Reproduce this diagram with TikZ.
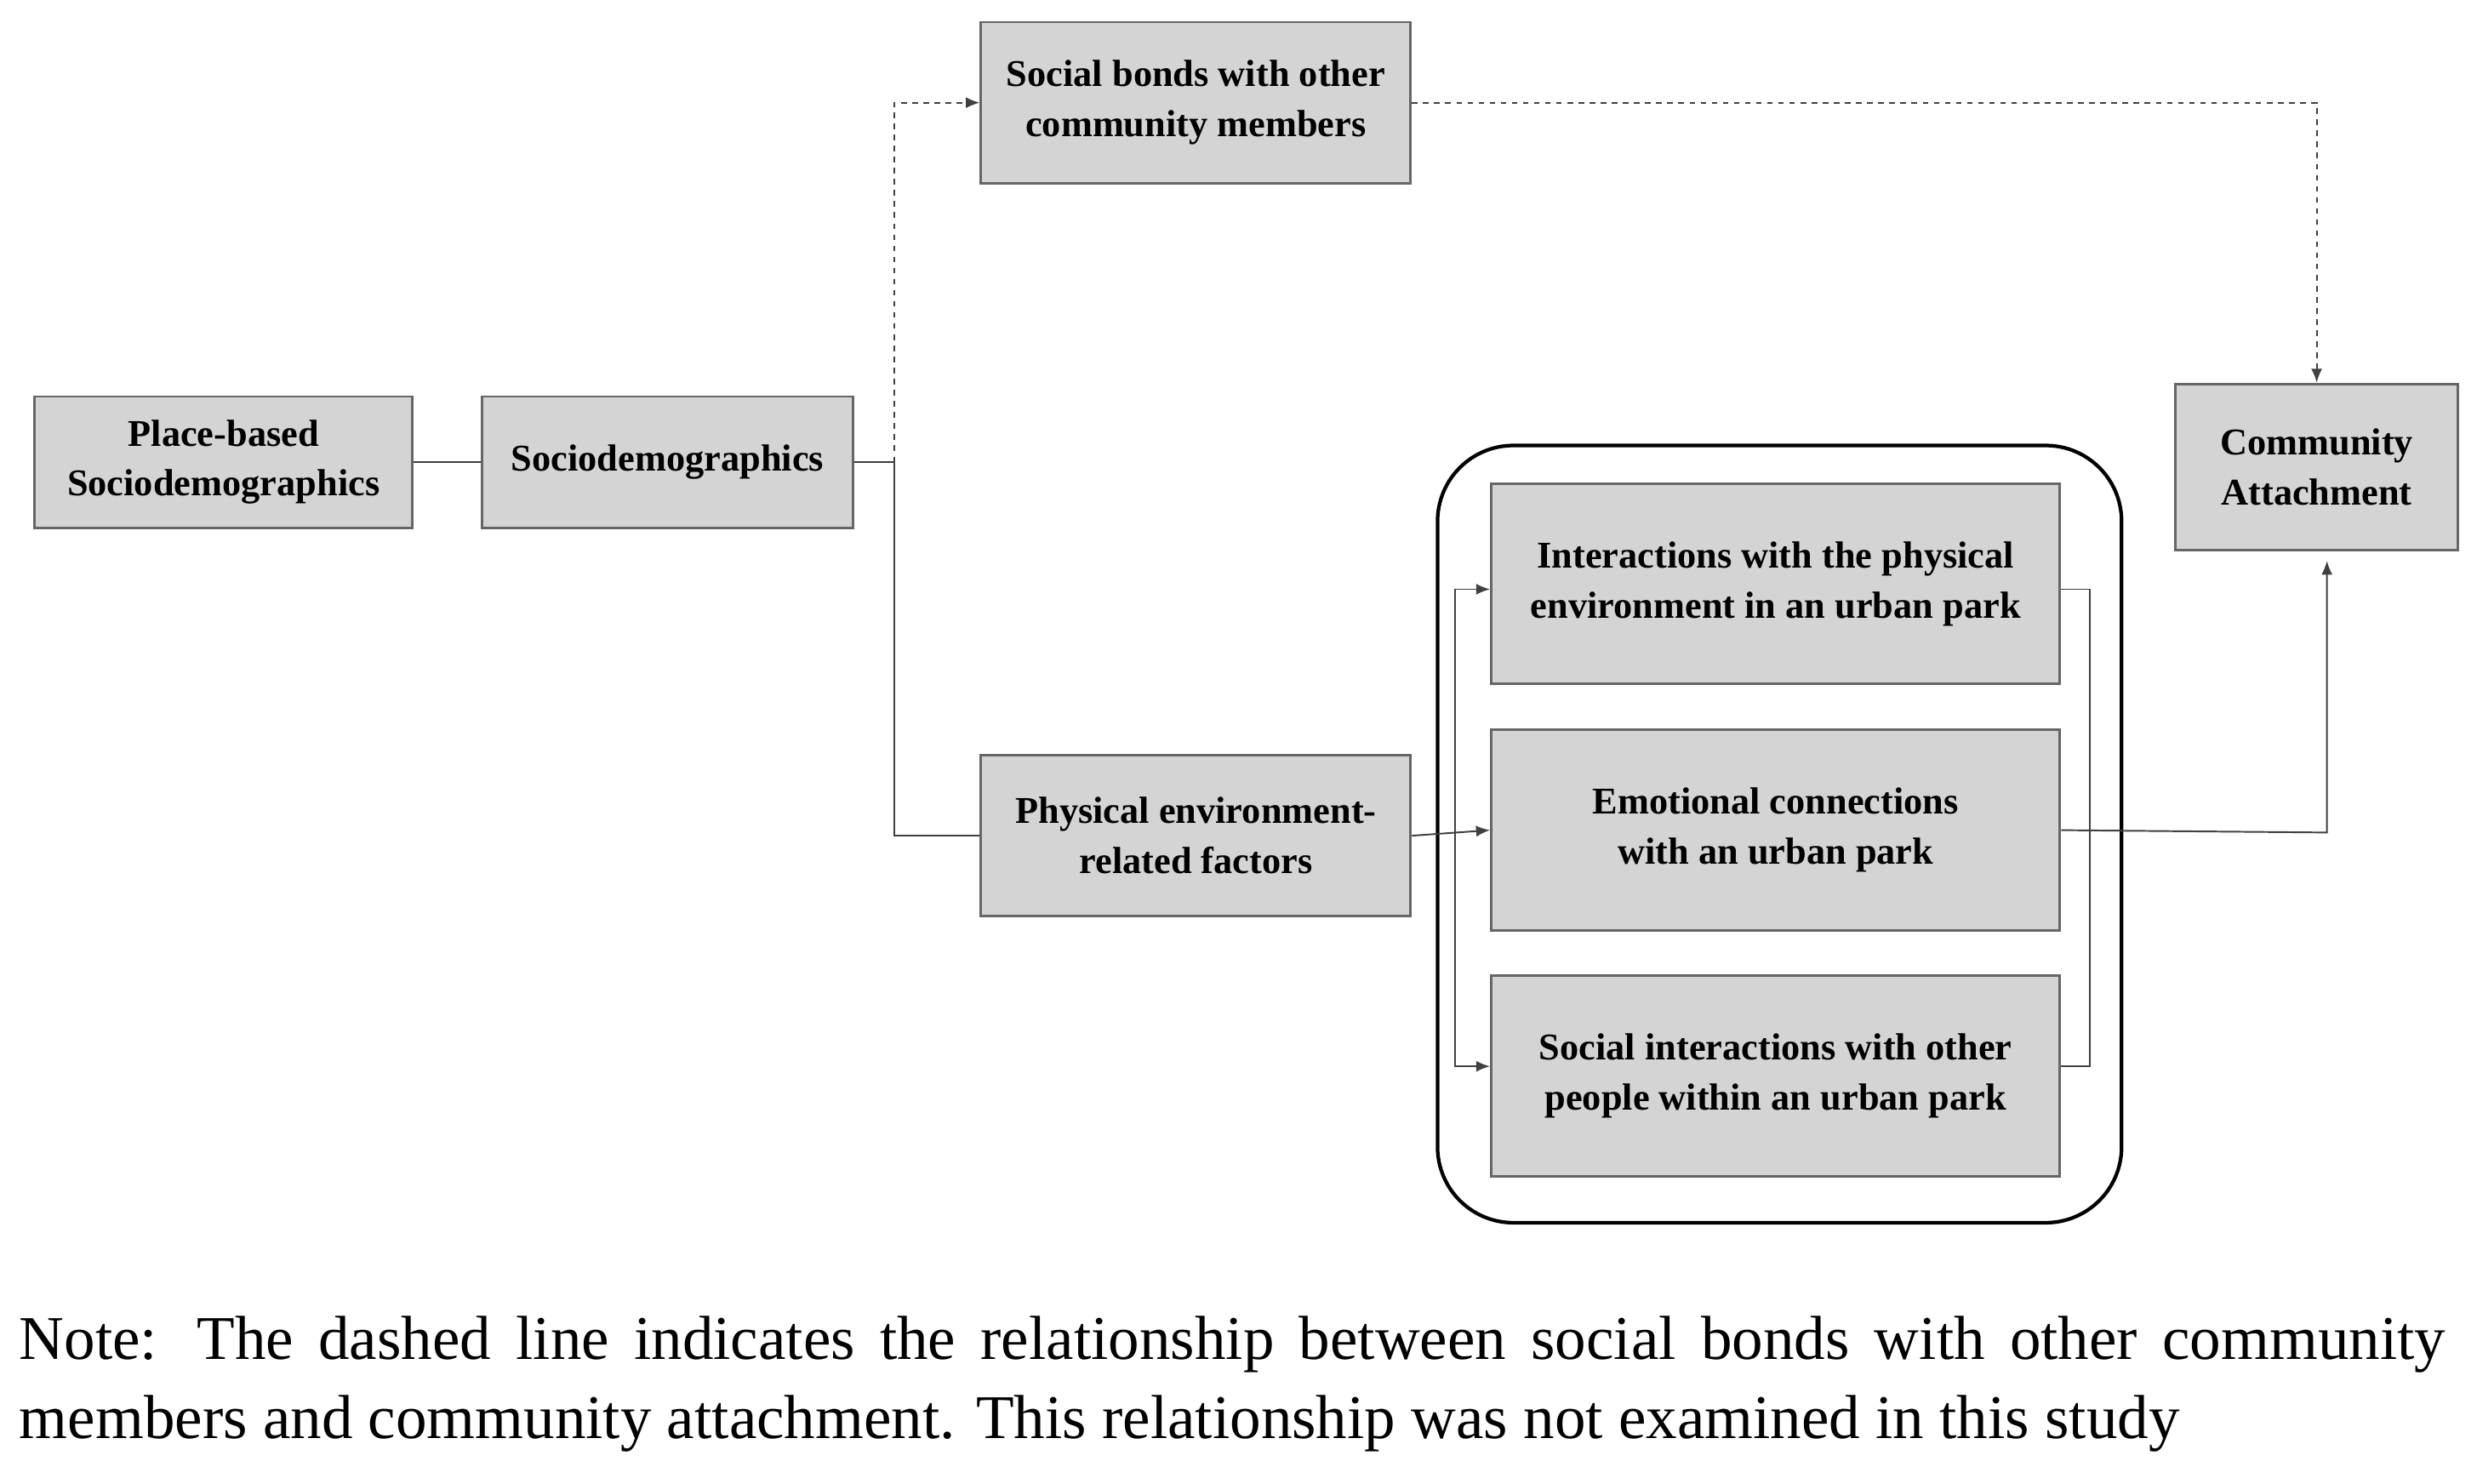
\documentclass[tikz,border=0pt]{standalone}
\usepackage{fontspec}
\setmainfont{Liberation Serif}
\usetikzlibrary{arrows.meta}
\begin{document}
\begin{tikzpicture}[x=0.02cm,y=-0.02cm,
  box/.style={draw=black!60,line width=0.9pt,fill=black!17,align=center,font=\bfseries\fontsize{13.6}{18}\selectfont,inner sep=0pt},
  conn/.style={draw=black!75,line width=0.6pt},
  arr/.style={conn,-{Latex[length=5pt,width=4pt]}},
  dsh/.style={dash pattern=on 2pt off 2pt}]
\useasboundingbox (0,0) rectangle (1568,939);
\node[box,minimum width=239*0.02cm,minimum height=83*0.02cm] (pb) at (141.5,292.5) {Place-based\\Sociodemographics};
\node[box,minimum width=235*0.02cm,minimum height=83*0.02cm] (sd) at (422.5,292.5) {Sociodemographics};
\node[box,minimum width=272*0.02cm,minimum height=102*0.02cm] (sb) at (757,65) {Social bonds with other\\community members};
\node[box,minimum width=179*0.02cm,minimum height=105*0.02cm] (ca) at (1466.5,295.5) {Community\\Attachment};
\node[box,minimum width=272*0.02cm,minimum height=102*0.02cm] (pe) at (757,529) {Physical environment-\\related factors};
\draw[line width=1.3pt,rounded corners=48*0.02cm] (910,282) rectangle (1343,774);
\node[box,minimum width=360*0.02cm,minimum height=127*0.02cm] (ia) at (1124,369.5) {Interactions with the physical\\environment in an urban park};
\node[box,minimum width=360*0.02cm,minimum height=127*0.02cm] (ec) at (1124,525.5) {Emotional connections\\with an urban park};
\node[box,minimum width=360*0.02cm,minimum height=127*0.02cm] (si) at (1124,681) {Social interactions with other\\people within an urban park};
\coordinate (j1) at (566,292.5);
\coordinate (j2) at (921,529);
\coordinate (j3) at (1323,373);
\coordinate (j4) at (1323,675);
\draw[conn] (pb.east) -- (sd.west);
\draw[conn] (sd.east) -- (j1) |- (pe.west);
\draw[arr,dsh] (j1) |- (sb.west);
\draw[arr,dsh] (sb.east) -| (ca.north);
\draw[arr] (pe.east) -- (ec.west);
\draw[arr] (j2) |- (ia.west |- 0,373);
\draw[arr] (j2) |- (si.west |- 0,675);
\draw[conn] (ia.east |- j3) -- (j3) -- (j4) -- (si.east |- j4);
\draw[arr] (ec.east) -- (1473,527) -- (1473,355);
\node[anchor=north west,text width=30.72cm,align=justify,inner sep=0pt,font=\fontsize{22.4}{28.5}\selectfont] (note) at (12,833) {\hyphenpenalty=10000 Note: The dashed line indicates the relationship between social bonds with other community\linebreak members and community attachment. This relationship was not examined in this study};
\end{tikzpicture}
\end{document}
